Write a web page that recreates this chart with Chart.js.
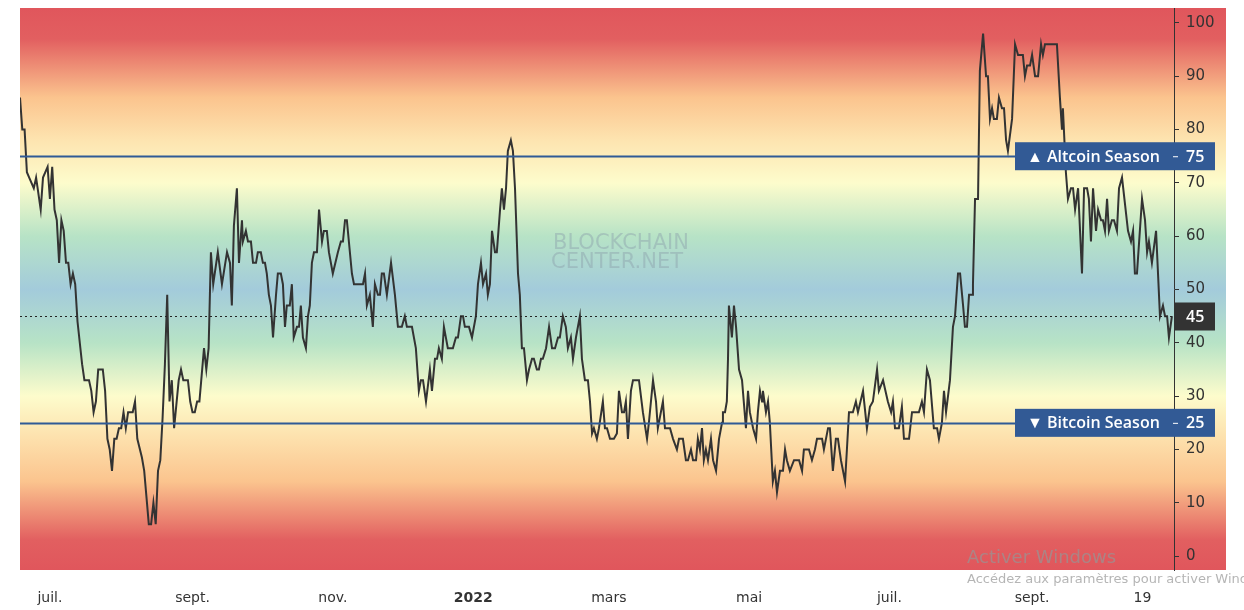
<!DOCTYPE html>
<html>
<head>
<meta charset="utf-8">
<script src="https://cdn.jsdelivr.net/npm/chart.js@4"></script>
<style>
  html, body { margin: 0; padding: 0; background: #fff; }
  #wrap { width: 1244px; height: 610px; position: relative; }
</style>
</head>
<body>
<div id="wrap"><canvas id="chart" width="1244" height="610"></canvas></div>
<script>
// days counted from 1 July 2021
const days = [-13,-12,-11,-10,-9,-7,-6,-4,-3,-1,0,1,2,3,4,5,6,7,8,9,10,11,12,14,15,17,18,19,20,21,23,24,25,26,27,28,29,30,31,32,33,34,36,37,38,40,41,43,44,45,46,47,48,49,50,51,52,53,54,56,57,58,60,61,62,63,64,65,67,68,69,70,71,
  73,74.8,77,78.3,79.1,80,81.3,82.2,83.5,83.9,85.2,86.1,87.4,88.3,89.6,90.4,91.7,92.6,93.5,94.3,95.2,96.1,97,98.3,99.1,100.4,101.3,102.2,103,104.3,105.2,106,107.4,108.3,109.1,110,111.3,112.2,113,113.9,114.8,116.1,117,118.3,119.1,120.4,121.3,123,125.2,126.5,127.4,128.3,129.1,131.3,132.2,136.1,137,137.8,139.1,140.4,141.3,142.6,143.5,144.3,145.2,146.5,148.3,150,151.3,153,154.3,155.2,156.5,
  157.4,159.1,160.4,161.3,162.2,163.5,165.2,166.1,167.4,168.3,169.1,170.4,171.3,173,175.2,176.5,177.4,178.7,179.6,180.4,182.2,183.5,185.2,186.1,187.4,188.3,189.6,190.4,191.3,192.2,193.5,194.3,195.7,196.5,197.4,198.3,199.1,200.4,201.3,202.2,203.5,204.3,205.2,206.1,207.4,208.3,209.6,210.4,211.7,212.6,213.5,214.3,215.7,217,218.3,219.6,220.9,221.7,223,224.3,225.2,226.5,227.4,228.7,230.4,231.3,232.6,233.9,234.8,235.7,236.5,237.8,238.7,
  240.4,241.3,242.2,243.5,245.2,246.5,247.4,248.7,249.6,250.4,251.3,252.6,253.5,256.1,257.8,259.6,260.4,262.2,263.5,264.3,266.5,267.4,269.6,270.9,272.6,273.5,275.2,276.5,277.4,278.7,279.6,280.9,281.7,282.6,283.5,284.3,285.2,286.1,287.4,288.3,289.6,290.9,292.2,292.6,293.5,294.3,294.8,295.2,296.5,297.4,298.3,299.6,300.9,301.3,302.6,303.5,304.3,305.7,307,307.8,308.7,309.6,310,311.3,312.2,313,314.3,315.2,316.1,317.4,318.7,319.6,320.4,321.7,323.5,325.7,327,327.8,330,331.3,332.6,333.5,335.7,336.5,338.3,339.1,340.4,341.7,342.6,343.9,345.7,346.5,347.4,349.1,350.4,351.3,353.5,355.2,356.5,357.8,359.6,360.4,362.2,364.3,365.7,366.5,367.4,369.1,
  370.4,371.3,373.5,374.8,377.8,379.1,380,381.3,382.6,384.3,385.7,386.5,387.8,388.7,389.6,391.3,392.6,393.5,394.8,395.7,397,397.8,398.7,399.6,400.9,401.3,402.2,403.5,404.3,405.7,407,407.8,408.7,409.6,410.4,411.7,412.6,413.9,414.8,415.7,416.5,418.3,419.6,420.9,423,423.9,424.8,426.1,427,428.3,429.6,430.9,431.7,432.6,437.8,439.1,440,440.4,441.7,442.6,443.9,444.8,445.7,447,448.7,449.6,450.9,451.7,452.6,453.5,454.8,455.7,457,457.8,458.7,459.6,460.4,461.7,462.6,463.9,464.8,466.1,466.5,468.7,470,470.9,471.7,472.6,474.8,476.1,477,477.8,479.1,480.9,482.6,483.9,484.8,485.7,486.5,487.8];

const indexValues = [86,80,80,72,71,69,71,65,71,73,67,73,65,63,55,63,61,55,55,51,53,51,44,36,33,33,31,27,29,35,35,31,22,20,16,22,22,24,24,27,24,27,27,29,22,18.5,16,6,6,10,6,16,18,26,36,49,29,33,24,33,35,33,33,29,27,27,29,29,39,35,39,57,51,
  57,51,57,55,47,62,69,55,63,59,61,59,59,55,55,57,57,55,55,53,49,47,41,49,53,53,51,43,47,47,51,41,43,43,47,41,39,45,47,55,57,57,65,59,61,61,57,53,57,59,59,63,63,53,51,51,53,47,49,43,51,49,49,53,53,49,55,49,43,43,45,43,43,
  43,39,31,33,33,29,35,31,37,37,39,37,43,39,39,41,41,45,45,43,43,41,45,51,55,51,53,49,51,61,57,57,65,69,65,69,76,78,76,69,53,49,39,39,33,35,37,37,35,35,37,37,39,43,39,39,41,41,45,43,39,41,37,41,45,37,33,33,29,23,24,22,24,
  29,24,24,22,22,23,31,27,27,29,22,31,33,33,27,22,25,33,29,24,29,24,24,22,20,22,22,18,18,20,18,18,22,20,24,18,20,18,22,18,16,22,25,27,27,29,37,47,41,47,43,35,33,33,24,31,27,24,22,27,31,29,31,27,29,25,14,16,12,16,16,20,18,16,18,18,16,20,20,18,20,22,22,20,24,24,16,22,22,18,14,20,27,27,29,27,31,24,28,29,35,31,33,29,27,29,24,24,
  28,22,22,27,27,29,27,35,33,24,24,22,25,31,27,33,43,45,53,53,47,43,43,49,49,51,67,67,91,98,90,90,82,84,82,82,86,84,84,78,76,82,96,94,94,90,92,92,94,90,90,96,94,96,96,86,80,84,72,67,69,69,65,69,53,69,69,67,59,69,61,65,63,63,61,67,61,63,63,61,69,71,71,61,59,61,53,53,67,63,57,59,55,61,45,47,45,45,41,45];

const tickDays = [0, 62, 123, 184, 243, 304, 365, 427, 475];
const tickLabels = ['juil.', 'sept.', 'nov.', '2022', 'mars', 'mai', 'juil.', 'sept.', '19'];
const valueTicks = [0, 10, 20, 30, 40, 50, 60, 70, 80, 90, 100];
const altcoinLevel = 75;
const bitcoinLevel = 25;
const currentValue = 45;

const points = days.map((d, i) => ({ x: d, y: indexValues[i] }));

// ===============================
// GRADIENT BACKGROUND + OVERLAYS
// ===============================
const backdrop = {
  id: 'backdrop',
  beforeDraw(chart) {
    const { ctx, chartArea: a, scales: { y } } = chart;
    const top = a.top, bottom = a.bottom;
    const g = ctx.createLinearGradient(0, top, 0, bottom);
    const stops = [[102.8, '#e0565c'], [97, '#e25f60'], [86, '#fbc48e'], [78, '#fde4b0'], [70, '#fdfccc'],
                   [60, '#b7e3c6'], [50, '#a3cbdb'], [40, '#b7e3c6'], [30, '#fdfccc'], [22, '#fde0ac'],
                   [14, '#fbc48e'], [3, '#e25f60'], [-2.6, '#e0565c']];
    stops.forEach(([v, c]) => {
      const p = (y.getPixelForValue(v) - top) / (bottom - top);
      g.addColorStop(Math.min(1, Math.max(0, p)), c);
    });
    ctx.save();
    ctx.fillStyle = g;
    ctx.fillRect(a.left, top, 1226 - a.left, bottom - top);
    // watermark
    ctx.fillStyle = 'rgba(140,160,170,0.45)';
    ctx.font = '21px "DejaVu Sans"';
    ctx.textBaseline = 'middle';
    ctx.fillText('BLOCKCHAIN', 553, 244);
    ctx.fillText('CENTER.NET', 551, 263);
    ctx.restore();
  },
  afterDatasetsDraw(chart) {
    const { ctx, chartArea: a, scales: { y } } = chart;
    ctx.save();
    // level lines
    [altcoinLevel, bitcoinLevel].forEach(v => {
      const py = Math.round(y.getPixelForValue(v)) + 0.5;
      ctx.strokeStyle = '#2f5a96';
      ctx.lineWidth = 2;
      ctx.beginPath(); ctx.moveTo(a.left, py); ctx.lineTo(a.right, py); ctx.stroke();
    });
    const cy = Math.round(y.getPixelForValue(currentValue)) + 0.5;
    ctx.strokeStyle = '#222';
    ctx.lineWidth = 1;
    ctx.setLineDash([2, 3]);
    ctx.beginPath(); ctx.moveTo(a.left, cy); ctx.lineTo(a.right, cy); ctx.stroke();
    ctx.setLineDash([]);

    // labels
    ctx.textBaseline = 'middle';
    const badge = (text, v) => {
      const py = y.getPixelForValue(v);
      ctx.fillStyle = '#325a95';
      ctx.fillRect(1015, py - 14, 200, 28);
      ctx.fillStyle = '#fff';
      ctx.textAlign = 'left';
      ctx.font = '600 16px "Open Sans"';
      ctx.fillText(text, 1027, py + 1);
      ctx.fillText(String(v), 1186, py + 1);
      ctx.fillRect(1173, py, 5, 1);
    };
    badge('\u25B2 Altcoin Season', altcoinLevel);
    badge('\u25BC Bitcoin Season', bitcoinLevel);
    ctx.fillStyle = '#333';
    ctx.fillRect(a.right + 1, cy - 14, 40, 28);
    ctx.fillStyle = '#fff';
    ctx.font = '600 16px "Open Sans"';
    ctx.textAlign = 'left';
    ctx.fillText(String(currentValue), 1186, cy + 1);

    // windows overlay text
    ctx.fillStyle = 'rgba(150,150,150,0.7)';
    ctx.font = '18px "DejaVu Sans"';
    ctx.fillText('Activer Windows', 967, 558);
    ctx.font = '13px "DejaVu Sans"';
    ctx.fillText('Accédez aux paramètres pour activer Windows.', 967, 580);
    ctx.restore();
  }
};

new Chart(document.getElementById('chart'), {
  type: 'line',
  data: {
    datasets: [{
      data: points,
      borderColor: '#333',
      borderWidth: 2,
      pointRadius: 0,
      tension: 0,
      fill: false
    }]
  },
  options: {
    responsive: false,
    animation: false,
    layout: { padding: { left: 20, top: 8, right: 0, bottom: 0 } },
    plugins: { legend: { display: false }, tooltip: { enabled: false } },
    scales: {
      x: {
        type: 'linear',
        min: -13,
        max: 488.7,
        grid: { display: false },
        border: { display: false },
        afterBuildTicks(scale) { scale.ticks = tickDays.map(v => ({ value: v })); },
        afterFit(scale) { scale.height = 40; scale.paddingLeft = 0; scale.paddingRight = 0; },
        ticks: {
          autoSkip: false,
          maxRotation: 0,
          padding: 12,
          color: '#333',
          font: ctx => ({ family: 'DejaVu Sans', size: 14, weight: ctx.tick && ctx.tick.value === 184 ? 'bold' : 'normal' }),
          callback: v => tickLabels[tickDays.indexOf(v)]
        }
      },
      y: {
        position: 'right',
        min: -2.6,
        max: 102.8,
        grid: { display: true, drawOnChartArea: false, drawTicks: true, tickLength: 5, color: '#333' },
        border: { display: true, color: '#333', width: 1 },
        afterBuildTicks(scale) { scale.ticks = valueTicks.map(v => ({ value: v })); },
        afterFit(scale) { scale.width = 70; scale.paddingTop = 0; scale.paddingBottom = 0; },
        ticks: {
          color: '#333',
          padding: 7,
          font: { family: 'DejaVu Sans', size: 15 },
          callback: v => String(v)
        }
      }
    }
  },
  plugins: [backdrop]
});
</script>
</body>
</html>
